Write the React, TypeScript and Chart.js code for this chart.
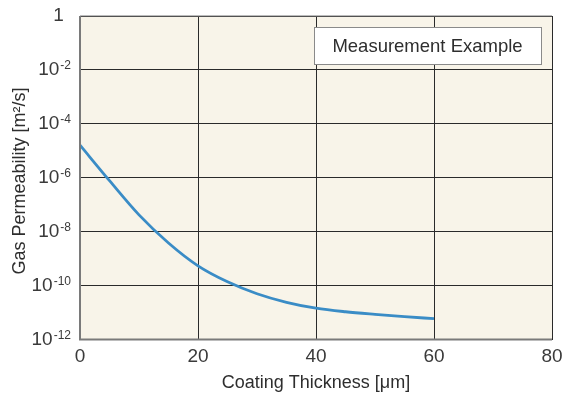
import { useEffect, useRef } from "react";
import { Chart, registerables } from "chart.js";
Chart.register(...registerables);

const thickness = [0, 5, 10, 15, 20, 25, 30, 35, 40, 45, 50, 55, 60];
const permeability = [1.62e-5, 7.8e-7, 4.2e-8, 3.8e-9, 5.4e-10, 1.38e-10, 5.0e-11, 2.4e-11, 1.45e-11, 1.07e-11, 8.6e-12, 7.1e-12, 5.9e-12];
const xTicks = [0, 20, 40, 60, 80];
const yExponents = [0, -2, -4, -6, -8, -10, -12];
const seriesLabel = "Measurement Example";
const xTitle = "Coating Thickness [μm]";
const yTitle = "Gas Permeability [m²/s]";

const TICK_FONT = '"Liberation Sans Narrow", "Liberation Sans", Arial, sans-serif';
const TEXT_FONT = '"Liberation Sans", Arial, sans-serif';

const textPlugin = {
  id: "textPlugin",
  beforeDraw(chart: any) {
    const { ctx, chartArea: a } = chart;
    ctx.save();
    ctx.fillStyle = "#f8f4e9";
    ctx.fillRect(a.left, a.top, a.right - a.left, a.bottom - a.top);
    ctx.restore();
  },
  afterDraw(chart: any) {
    const { ctx, chartArea: a, scales } = chart;
    const xs = scales.x;
    const ys = scales.y;
    ctx.save();
    // border
    ctx.strokeStyle = "#7a7a7a";
    ctx.lineWidth = 2;
    ctx.beginPath();
    ctx.moveTo(a.left, a.top);
    ctx.lineTo(a.left, a.bottom);
    ctx.lineTo(a.right, a.bottom);
    ctx.stroke();
    ctx.lineWidth = 1.2;
    ctx.beginPath();
    ctx.moveTo(a.left, a.top);
    ctx.lineTo(a.right, a.top);
    ctx.stroke();

    // y tick labels
    ctx.fillStyle = "#3a3a3a";
    ctx.textBaseline = "middle";
    yExponents.forEach((e) => {
      const py = ys.getPixelForValue(Math.pow(10, e));
      if (e === 0) {
        ctx.font = `19px ${TICK_FONT}`;
        ctx.textAlign = "center";
        ctx.fillText("1", 58.5, py);
        return;
      }
      const expStr = "-" + String(-e);
      ctx.font = `19px ${TICK_FONT}`;
      const wBase = ctx.measureText("10").width;
      ctx.font = `12px ${TICK_FONT}`;
      const wExp = ctx.measureText(expStr).width;
      const right = 71;
      const start = right - wBase - wExp - 1;
      ctx.textAlign = "left";
      ctx.font = `19px ${TICK_FONT}`;
      ctx.fillText("10", start, py);
      ctx.font = `12px ${TICK_FONT}`;
      ctx.fillText(expStr, start + wBase + 1, py - 4);
    });

    // x tick labels
    ctx.font = `19px ${TICK_FONT}`;
    ctx.textAlign = "center";
    ctx.textBaseline = "middle";
    xTicks.forEach((v) => {
      ctx.fillText(String(v), xs.getPixelForValue(v), a.bottom + 17);
    });

    // axis titles
    ctx.fillStyle = "#2e2e2e";
    ctx.font = `18px ${TEXT_FONT}`;
    ctx.textBaseline = "middle";
    ctx.fillText(xTitle, (a.left + a.right) / 2, a.bottom + 44);
    ctx.save();
    ctx.translate(20, 181);
    ctx.rotate(-Math.PI / 2);
    ctx.fillText(yTitle, 0, 0);
    ctx.restore();

    // legend box
    const bx = 314, by = 27, bw = 227, bh = 37;
    ctx.fillStyle = "#ffffff";
    ctx.fillRect(bx, by, bw, bh);
    ctx.strokeStyle = "#8a8a8a";
    ctx.lineWidth = 1;
    ctx.strokeRect(bx + 0.5, by + 0.5, bw, bh);
    ctx.fillStyle = "#2e2e2e";
    ctx.font = `18.5px ${TEXT_FONT}`;
    ctx.textAlign = "center";
    ctx.fillText(seriesLabel, bx + bw / 2, by + bh / 2 + 1);
    ctx.restore();
  },
};

export default function App() {
  const ref = useRef<HTMLCanvasElement>(null);
  useEffect(() => {
    if (!ref.current) return;
    const chart = new Chart(ref.current, {
      type: "line",
      data: {
        datasets: [
          {
            label: seriesLabel,
            data: thickness.map((x, i) => ({ x, y: permeability[i] })),
            borderColor: "#3a8cc6",
            borderWidth: 2.8,
            pointRadius: 0,
            cubicInterpolationMode: "monotone",
            fill: false,
          },
        ],
      },
      options: {
        animation: false,
        responsive: true,
        maintainAspectRatio: false,
        layout: { padding: { top: 16, right: 11, left: 0, bottom: 0 } },
        plugins: { legend: { display: false }, tooltip: { enabled: false } },
        scales: {
          x: {
            type: "linear",
            min: 0,
            max: 80,
            afterBuildTicks: (s: any) => {
              s.ticks = xTicks.map((v) => ({ value: v }));
            },
            afterFit: (s: any) => {
              s.height = 56.5;
            },
            ticks: { display: false },
            grid: { color: "#2a2a2a", lineWidth: 1, drawTicks: false },
            border: { display: false },
          },
          y: {
            type: "logarithmic",
            min: 1e-12,
            max: 1,
            afterBuildTicks: (s: any) => {
              s.ticks = yExponents.map((e) => ({ value: Math.pow(10, e) }));
            },
            afterFit: (s: any) => {
              s.width = 80;
            },
            ticks: { display: false },
            grid: { color: "#2a2a2a", lineWidth: 1, drawTicks: false },
            border: { display: false },
          },
        },
      },
      plugins: [textPlugin],
    } as any);
    return () => chart.destroy();
  }, []);
  return (
    <div style={{ position: "fixed", left: 0, top: 0, width: 563, height: 396 }}>
      <canvas ref={ref} />
    </div>
  );
}
